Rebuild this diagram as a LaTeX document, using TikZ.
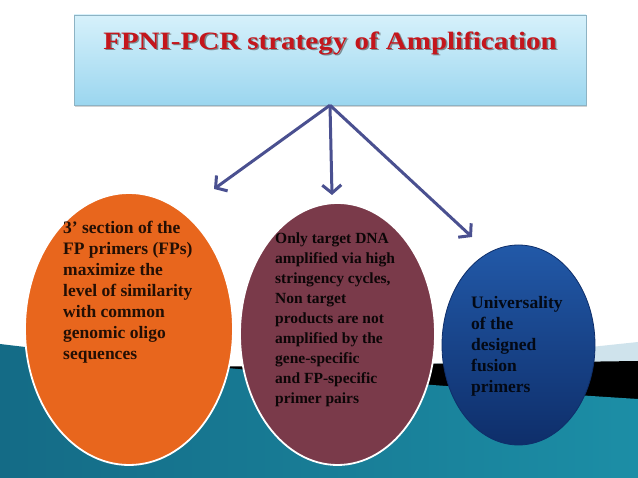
\documentclass[tikz,border=0pt]{standalone}
\usepackage{fontspec}
\setmainfont{Liberation Serif}
\newfontfamily\headfont[FakeStretch=1.16]{Liberation Serif}
\usetikzlibrary{arrows.meta,shapes.geometric,shadows}
\definecolor{boxtop}{HTML}{D6F1FB}
\definecolor{boxbottom}{HTML}{9BD6EF}
\definecolor{boxline}{HTML}{8DB3C4}
\definecolor{headred}{HTML}{C4161C}
\definecolor{arrowblue}{HTML}{4A5090}
\definecolor{ovalorange}{HTML}{E8661D}
\definecolor{ovalmaroon}{HTML}{7A3A4A}
\definecolor{ovalbluetop}{HTML}{2259A8}
\definecolor{ovalbluebottom}{HTML}{0E2E6A}
\definecolor{tealdark}{HTML}{146B86}
\definecolor{teallight}{HTML}{4DB9D3}
\definecolor{tealright}{HTML}{1C8EA6}
\definecolor{bandgrey}{HTML}{CFE3EC}
\tikzset{
  oval/.style={ellipse, draw=white, line width=1.8pt, inner sep=0pt},
  ovaltext/.style={anchor=west, align=left, inner sep=0pt,
    font=\bfseries\fontsize{17.5}{21}\selectfont},
  branch/.style={arrowblue, line width=3pt,
    -{Straight Barb[length=8pt,width=19pt]}}
}
\begin{document}
\begin{tikzpicture}[x=1pt,y=-1pt]
\useasboundingbox (0,0) rectangle (638,478);
\fill[white] (0,0) rectangle (638,478);
% background stripes
\fill[bandgrey] (430,364) -- (638,342) -- (638,362) -- cycle;
\fill[black] (190,367) -- (638,361) -- (638,430) -- (190,430) -- cycle;
\shade[left color=tealdark, middle color=teallight, right color=tealright]
  (0,344) .. controls (200,368) and (400,384) .. (638,399)
  -- (638,478) -- (0,478) -- cycle;
% title
\node[draw=boxline, top color=boxtop, bottom color=boxbottom,
  minimum width=512pt, minimum height=90pt, inner sep=0pt,
  drop shadow={shadow xshift=1pt, shadow yshift=-2pt, opacity=.35}]
  (head) at (330,60) {};
\node[text=black!70, opacity=.6, font=\headfont\bfseries\fontsize{25}{30}\selectfont]
  (headshadow) at (331.5,44.5) {FPNI-PCR strategy of Amplification};
\node[text=headred, font=\headfont\bfseries\fontsize{25}{30}\selectfont]
  (headtext) at (330,43) {FPNI-PCR strategy of Amplification};
% arrows
\coordinate (tipleft) at (214,189);
\coordinate (tipmid) at (332,195);
\coordinate (tipright) at (472,237);
\draw[branch] (head.south) -- (tipleft);
\draw[branch] (head.south) -- (tipmid);
\draw[branch] (head.south) -- (tipright);
% ovals
\node[oval, fill=ovalorange, minimum width=208pt, minimum height=272pt]
  (left) at (129,329) {};
\node[oval, fill=ovalmaroon, minimum width=195pt, minimum height=262pt]
  (mid) at (337.5,334) {};
\node[oval, draw=ovalbluebottom, line width=.8pt, top color=ovalbluetop,
  bottom color=ovalbluebottom, minimum width=153pt, minimum height=200pt]
  (right) at (518.5,345) {};
\node[ovaltext, text=black!85!ovalorange] (lefttext) at (63,292)
  {3’ section of the\\FP primers (FPs)\\maximize the\\level of similarity\\
   with common\\genomic oligo\\sequences};
\node[ovaltext, text=black!90!ovalmaroon, font=\bfseries\fontsize{15.5}{20}\selectfont]
  (midtext) at (275,320)
  {Only target DNA\\amplified via high\\stringency cycles,\\Non target\\
   products are not\\amplified by the\\gene-specific\\and FP-specific\\primer pairs};
\node[ovaltext, text=black!80!ovalbluebottom] (righttext) at (471,346.5)
  {Universality\\of the\\designed\\fusion\\primers};
\end{tikzpicture}
\end{document}
